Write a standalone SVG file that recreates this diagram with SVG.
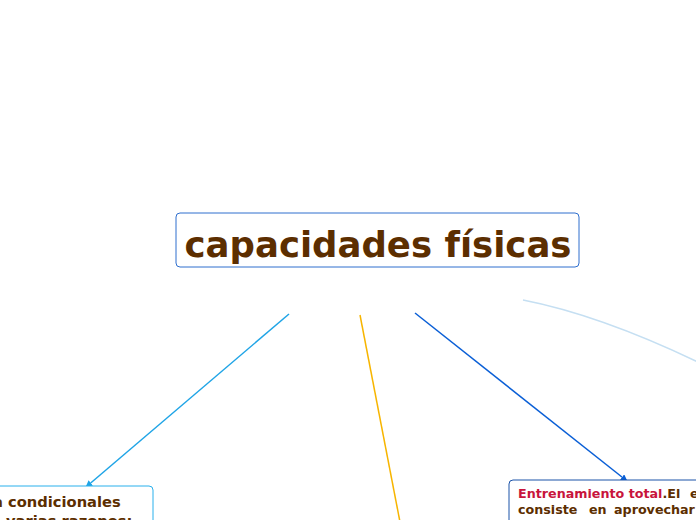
<svg xmlns="http://www.w3.org/2000/svg" width="696" height="520" viewBox="0 0 696 520">
<defs>
<style>
text{font-family:"DejaVu Sans","Verdana",sans-serif;font-weight:bold;fill:#5c2e00}
.box{fill:#fff;stroke-width:1}
.con{fill:none;stroke-width:1.5}
</style>
<marker id="arL" viewBox="0 0 10 10" refX="9" refY="5" markerWidth="7" markerHeight="7" orient="auto" markerUnits="userSpaceOnUse"><path d="M0,0 L10,5 L0,10 z" fill="#1fa4e6"/></marker>
<marker id="arR" viewBox="0 0 10 10" refX="9" refY="5" markerWidth="7" markerHeight="7" orient="auto" markerUnits="userSpaceOnUse"><path d="M0,0 L10,5 L0,10 z" fill="#0a5fd6"/></marker>
</defs>
<rect width="696" height="520" fill="#fff"/>
<g id="connectors">
<line class="con" x1="289" y1="314" x2="86" y2="487" stroke="#1fa4e6" marker-end="url(#arL)"/>
<line class="con" x1="360" y1="315" x2="400" y2="522" stroke="#f7b500"/>
<line class="con" x1="415" y1="313" x2="627" y2="481" stroke="#0a5fd6" marker-end="url(#arR)"/>
<path class="con" d="M523,300 Q600,315 700,363" stroke="#c5dff2"/>
</g>
<g id="root">
<rect class="box" x="176" y="213" width="403" height="54" rx="4" stroke="#2f6fce"/>
<text x="378" y="257" font-size="35.5" text-anchor="middle">capacidades físicas</text>
</g>
<g id="node-left">
<rect class="box" x="-10" y="486" width="163" height="60" rx="4" stroke="#29b0ec"/>
<text x="-7" y="507" font-size="14.7">a condicionales</text>
<text x="6" y="526" font-size="14.7">varias razones:</text>
</g>
<g id="node-right">
<rect class="box" x="509" y="480" width="200" height="60" rx="4" stroke="#1a52a8"/>
<text y="498" font-size="12.7"><tspan x="518" fill="#c8143c">Entrenamiento total</tspan><tspan>.El</tspan><tspan x="690">e</tspan></text>
<text y="514" font-size="12.7"><tspan x="518">consiste</tspan><tspan x="589">en</tspan><tspan x="614">aprovechar</tspan></text>
</g>
</svg>
